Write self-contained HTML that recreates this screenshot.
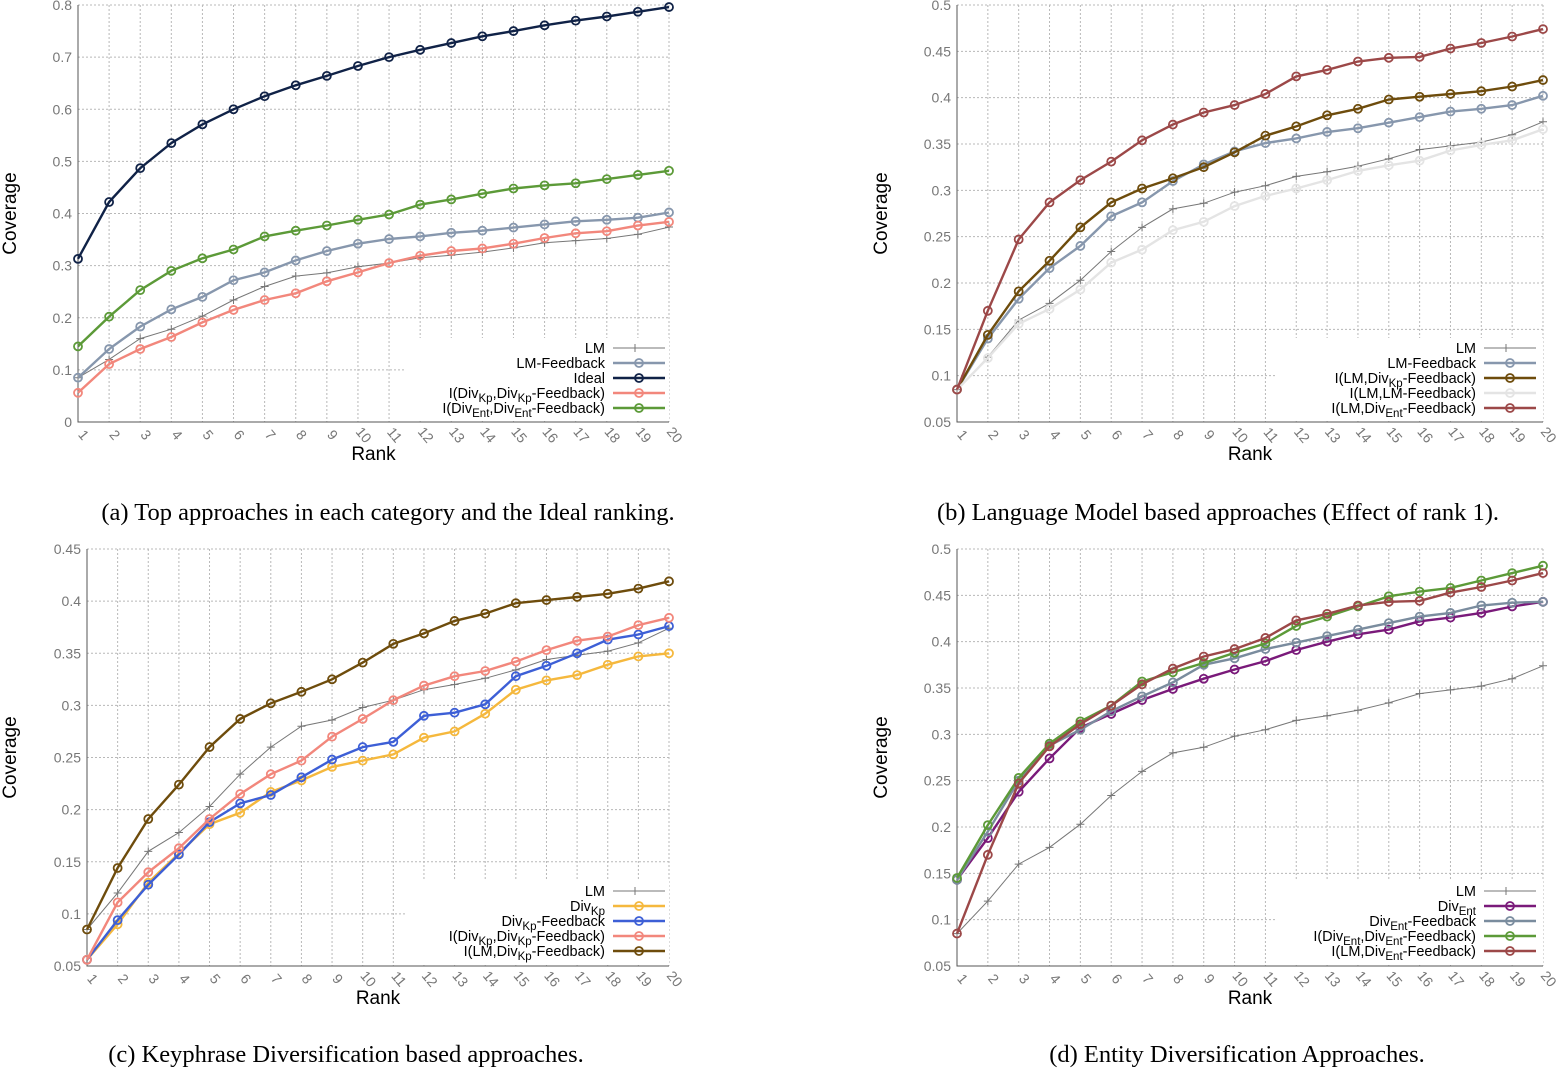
<!DOCTYPE html>
<html><head><meta charset="utf-8">
<style>
html,body{margin:0;padding:0;background:#fff;}
svg{display:block;}
text{font-family:"Liberation Sans",sans-serif;}
.cap{font-family:"Liberation Serif",serif;font-size:24.5px;fill:#000;}
</style></head>
<body>
<svg id="fig" width="1556" height="1069" viewBox="0 0 1556 1069" xmlns="http://www.w3.org/2000/svg">
<text class="cap" x="388" y="520" text-anchor="middle">(a) Top approaches in each category and the Ideal ranking.</text>
<text class="cap" x="1218" y="520" text-anchor="middle">(b) Language Model based approaches (Effect of rank 1).</text>
<text class="cap" x="346" y="1062" text-anchor="middle">(c) Keyphrase Diversification based approaches.</text>
<text class="cap" x="1237" y="1062" text-anchor="middle">(d) Entity Diversification Approaches.</text>
</svg>
<script>
const ranks = [1,2,3,4,5,6,7,8,9,10,11,12,13,14,15,16,17,18,19,20];
const lmVals = [0.085,0.12,0.16,0.178,0.203,0.234,0.26,0.28,0.286,0.298,0.305,0.315,0.32,0.326,0.334,0.344,0.348,0.352,0.36,0.374];
const lmFbVals = [0.085,0.14,0.183,0.216,0.24,0.272,0.287,0.31,0.328,0.342,0.351,0.356,0.363,0.367,0.373,0.379,0.385,0.388,0.392,0.402];
const idealVals = [0.313,0.422,0.487,0.535,0.571,0.6,0.625,0.646,0.664,0.683,0.7,0.714,0.727,0.74,0.75,0.761,0.77,0.778,0.787,0.796];
const iKpVals = [0.056,0.111,0.14,0.163,0.191,0.215,0.234,0.247,0.27,0.287,0.305,0.319,0.328,0.333,0.342,0.353,0.362,0.366,0.377,0.384];
const iEntVals = [0.145,0.202,0.253,0.29,0.314,0.331,0.356,0.367,0.377,0.388,0.398,0.417,0.427,0.438,0.448,0.454,0.458,0.466,0.474,0.482];
const iLmKpVals = [0.085,0.144,0.191,0.224,0.26,0.287,0.302,0.313,0.325,0.341,0.359,0.369,0.381,0.388,0.398,0.401,0.404,0.407,0.412,0.419];
const iLmLmVals = [0.085,0.119,0.156,0.172,0.193,0.222,0.236,0.257,0.266,0.283,0.294,0.302,0.311,0.321,0.327,0.332,0.343,0.349,0.354,0.366];
const iLmEntVals = [0.085,0.17,0.247,0.287,0.311,0.331,0.354,0.371,0.384,0.392,0.404,0.423,0.43,0.439,0.443,0.444,0.453,0.459,0.466,0.474];
const divKpVals = [0.056,0.09,0.13,0.158,0.186,0.197,0.217,0.228,0.241,0.247,0.253,0.269,0.275,0.292,0.315,0.324,0.329,0.339,0.347,0.35];
const divKpFbVals = [0.056,0.094,0.128,0.157,0.188,0.206,0.214,0.231,0.248,0.26,0.265,0.29,0.293,0.301,0.328,0.338,0.35,0.363,0.368,0.376];
const divEntVals = [0.143,0.188,0.238,0.274,0.307,0.322,0.337,0.349,0.36,0.37,0.379,0.391,0.4,0.408,0.413,0.422,0.426,0.431,0.438,0.443];
const divEntFbVals = [0.143,0.195,0.25,0.288,0.305,0.325,0.341,0.356,0.375,0.382,0.392,0.399,0.406,0.413,0.42,0.427,0.431,0.439,0.442,0.443];
const iEntDVals = [0.145,0.202,0.253,0.29,0.314,0.331,0.357,0.367,0.377,0.388,0.398,0.417,0.427,0.438,0.449,0.454,0.458,0.466,0.474,0.482];
const ticksA = [0,0.1,0.2,0.3,0.4,0.5,0.6,0.7,0.8];
const ticksB = [0.05,0.1,0.15,0.2,0.25,0.3,0.35,0.4,0.45,0.5];
const ticksC = [0.05,0.1,0.15,0.2,0.25,0.3,0.35,0.4,0.45];

const NS="http://www.w3.org/2000/svg";
const svg=document.getElementById('fig');
function mk(tag,attrs,parent){const e=document.createElementNS(NS,tag);for(const k in attrs)e.setAttribute(k,attrs[k]);(parent||svg).appendChild(e);return e;}

const C={lm:'#777777',lmfb:'#8797ad',ideal:'#102247',ikp:'#f2877c',ient:'#5c9a38',ilmkp:'#6e4c0c',ilmlm:'#e4e4e4',ilment:'#9c4848',divkp:'#f5b83d',divkpfb:'#3d5fd6',divent:'#7a1a7a',diventfb:'#7a8c9e'};

function panel(id,p,ticks,series,legend){
  const g=mk('g',{});
  
  
  const ymin=ticks[0],ymax=ticks[ticks.length-1];
  const xs=r=>p.x0+(r-1)*(p.x1-p.x0)/19;
  const ys=v=>p.yb-(v-ymin)*(p.yb-p.yt)/(ymax-ymin);
  ticks.forEach(t=>{
    const l=mk('line',{x1:p.x0,x2:p.x1,y1:ys(t),y2:ys(t),stroke:'#b8b8b8','stroke-width':1,'stroke-dasharray':'2,2'},g);
    
    
    const tx=mk('text',{x:p.x0-6,y:ys(t)+5,'text-anchor':'end','font-size':14,fill:'#777'},g);
    tx.textContent=String(t);
    
    
  });
  ranks.forEach(r=>{
    const l=mk('line',{x1:xs(r),x2:xs(r),y1:p.yt,y2:p.yb,stroke:'#b8b8b8','stroke-width':1,'stroke-dasharray':'2,2'},g);
    
    
    const tx=mk('text',{x:0,y:0,'text-anchor':'middle','font-size':14,fill:'#777',transform:`translate(${xs(r)+2},${p.yb+16}) rotate(50)`},g);
    tx.textContent=String(r);
    
    
  });
  const lb=mk('rect',{x:p.lx-200,y:p.ly-10,width:p.x1-p.lx+200,height:p.yb-p.ly+9,fill:'#fff'},g);
  
  
  const ax=mk('path',{d:`M${p.x0},${p.yt}V${p.yb}H${p.x1}`,fill:'none',stroke:'#555','stroke-width':1},g);
  
  
  const yl=mk('text',{x:0,y:0,'text-anchor':'middle','font-size':19,fill:'#000',transform:`translate(${p.ylx},${(p.yt+p.yb)/2}) rotate(-90)`},g);
  yl.textContent='Coverage';
  
  
  const xl=mk('text',{x:(p.x0+p.x1)/2,y:p.yb+38,'text-anchor':'middle','font-size':19,fill:'#000'},g);
  xl.textContent='Rank';
  
  
  series.forEach((s,i)=>{
    const sg=mk('g',{},g);
    
    
    const d=s.vals.map((v,j)=>(j?'L':'M')+xs(ranks[j]).toFixed(1)+','+ys(v).toFixed(1)).join('');
    const pl=mk('path',{d:d,fill:'none',stroke:s.c,'stroke-width':s.plus?1:2.4},sg);
    
    
    s.vals.forEach((v,j)=>{
      const x=xs(ranks[j]),y=ys(v);
      if(s.plus){
        const m=mk('path',{d:`M${x-4},${y}h8M${x},${y-4}v8`,stroke:s.c,'stroke-width':1},sg);
        
        
      }else{
        const m=mk('circle',{cx:x,cy:y,r:4,fill:'none',stroke:s.c,'stroke-width':1.8},sg);
        
        
      }
    });
    const ly=p.ly+i*15;
    const lt=mk('text',{x:p.lx,y:ly+5,'text-anchor':'end','font-size':14.5,fill:'#000'},g);
    lt.innerHTML=legend[i];
    
    
    const ll=mk('line',{x1:p.lx+8,x2:p.lx+60,y1:ly,y2:ly,stroke:s.c,'stroke-width':s.plus?1:2.6},g);
    
    
    if(s.plus){
      const m=mk('path',{d:`M${p.lx+30},${ly-4}v8M${p.lx+26},${ly}h8`,stroke:s.c},g);
      
      
    }else{
      const m=mk('circle',{cx:p.lx+34,cy:ly,r:4,fill:'none',stroke:s.c,'stroke-width':1.8},g);
      
      
    }
  });
}
const sub=t=>`<tspan baseline-shift="-4" font-size="11.5">${t}</tspan>`;
const K='Div'+sub('Kp');
const E='Div'+sub('Ent');

panel('a',{x0:78,x1:669,yt:5,yb:422,ylx:16,lx:605,ly:348},ticksA,[
 {name:'lm',vals:lmVals,c:C.lm,plus:true},
 {name:'lm-feedback',vals:lmFbVals,c:C.lmfb},
 {name:'ideal',vals:idealVals,c:C.ideal},
 {name:'i-divkp',vals:iKpVals,c:C.ikp},
 {name:'i-divent',vals:iEntVals,c:C.ient}
],['LM','LM-Feedback','Ideal','I('+K+','+K+'-Feedback)','I('+E+','+E+'-Feedback)']);

panel('b',{x0:957,x1:1543,yt:5,yb:422,ylx:887,lx:1476,ly:348},ticksB,[
 {name:'lm',vals:lmVals,c:C.lm,plus:true},
 {name:'lm-feedback',vals:lmFbVals,c:C.lmfb},
 {name:'i-lm-divkp',vals:iLmKpVals,c:C.ilmkp},
 {name:'i-lm-lm',vals:iLmLmVals,c:C.ilmlm},
 {name:'i-lm-divent',vals:iLmEntVals,c:C.ilment}
],['LM','LM-Feedback','I(LM,'+K+'-Feedback)','I(LM,LM-Feedback)','I(LM,'+E+'-Feedback)']);

panel('c',{x0:87,x1:669,yt:549,yb:966,ylx:16,lx:605,ly:891},ticksC,[
 {name:'lm',vals:lmVals,c:C.lm,plus:true},
 {name:'divkp',vals:divKpVals,c:C.divkp},
 {name:'divkp-feedback',vals:divKpFbVals,c:C.divkpfb},
 {name:'i-divkp',vals:iKpVals,c:C.ikp},
 {name:'i-lm-divkp',vals:iLmKpVals,c:C.ilmkp}
],['LM',K,K+'-Feedback','I('+K+','+K+'-Feedback)','I(LM,'+K+'-Feedback)']);

panel('d',{x0:957,x1:1543,yt:549,yb:966,ylx:887,lx:1476,ly:891},ticksB,[
 {name:'lm',vals:lmVals,c:C.lm,plus:true},
 {name:'divent',vals:divEntVals,c:C.divent},
 {name:'divent-feedback',vals:divEntFbVals,c:C.diventfb},
 {name:'i-divent',vals:iEntDVals,c:C.ient},
 {name:'i-lm-divent',vals:iLmEntVals,c:C.ilment}
],['LM',E,E+'-Feedback','I('+E+','+E+'-Feedback)','I(LM,'+E+'-Feedback)']);
</script>
</body></html>
